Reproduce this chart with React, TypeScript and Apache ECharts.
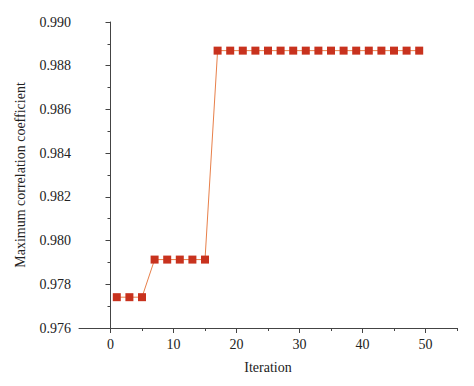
import React, { useEffect, useRef } from "react";
import * as echarts from "echarts";

const iterations = [1, 3, 5, 7, 9, 11, 13, 15, 17, 19, 21, 23, 25, 27, 29, 31, 33, 35, 37, 39, 41, 43, 45, 47, 49];
const coefficients = [
  0.97741, 0.97741, 0.97741,
  0.97913, 0.97913, 0.97913, 0.97913, 0.97913,
  0.98869, 0.98869, 0.98869, 0.98869, 0.98869, 0.98869, 0.98869, 0.98869, 0.98869,
  0.98869, 0.98869, 0.98869, 0.98869, 0.98869, 0.98869, 0.98869, 0.98869,
];
const xMajorTicks = [0, 10, 20, 30, 40, 50];
const xMinorTicks = [5, 15, 25, 35, 45, 55];

const FONT = "Liberation Serif";

export default function App() {
  const ref = useRef<HTMLDivElement>(null);
  useEffect(() => {
    document.body.style.margin = "0";
    if (!ref.current) return;
    const chart = echarts.init(ref.current, null, { renderer: "svg" });
    const axisColor = "#444";
    chart.setOption({
      animation: false,
      backgroundColor: "#fff",
      grid: { left: 79, top: 22, right: 17, bottom: 58 },
      xAxis: [
        {
          type: "value",
          position: "bottom",
          min: -5,
          max: 55,
          name: "Iteration",
          nameLocation: "middle",
          nameGap: 32,
          nameTextStyle: { fontFamily: FONT, fontSize: 14, color: "#222" },
          axisLine: { show: true, lineStyle: { color: axisColor, width: 1 } },
          axisTick: { show: true, customValues: xMajorTicks, length: 5, lineStyle: { color: axisColor } },
          axisLabel: { customValues: xMajorTicks, margin: 9, fontFamily: FONT, fontSize: 14, color: "#222" },
          splitLine: { show: false },
        },
        {
          type: "value",
          position: "bottom",
          min: -5,
          max: 55,
          axisLine: { show: false },
          axisTick: { show: true, customValues: xMinorTicks, length: 3, lineStyle: { color: axisColor } },
          axisLabel: { show: false },
          splitLine: { show: false },
        },
      ],
      yAxis: {
        type: "value",
        min: 0.976,
        max: 0.99,
        interval: 0.002,
        name: "Maximum correlation coefficient",
        nameLocation: "middle",
        nameGap: 52,
        nameTextStyle: { fontFamily: FONT, fontSize: 14, color: "#222" },
        axisLine: { show: true, lineStyle: { color: axisColor, width: 1 } },
        axisTick: { show: true, length: 5, lineStyle: { color: axisColor } },
        minorTick: { show: true, splitNumber: 2, length: 3, lineStyle: { color: axisColor } },
        axisLabel: {
          margin: 8,
          fontFamily: FONT,
          fontSize: 14,
          color: "#222",
          formatter: (v: number) => v.toFixed(3),
        },
        splitLine: { show: false },
      },
      series: [
        {
          type: "line",
          xAxisIndex: 0,
          data: iterations.map((x, i) => [x, coefficients[i]]),
          symbol: "rect",
          symbolSize: 8,
          lineStyle: { color: "#e8804a", width: 1 },
          itemStyle: { color: "#c8321e", borderWidth: 0 },
        },
      ],
    });
    return () => chart.dispose();
  }, []);
  return <div ref={ref} style={{ width: 474, height: 386 }} />;
}
